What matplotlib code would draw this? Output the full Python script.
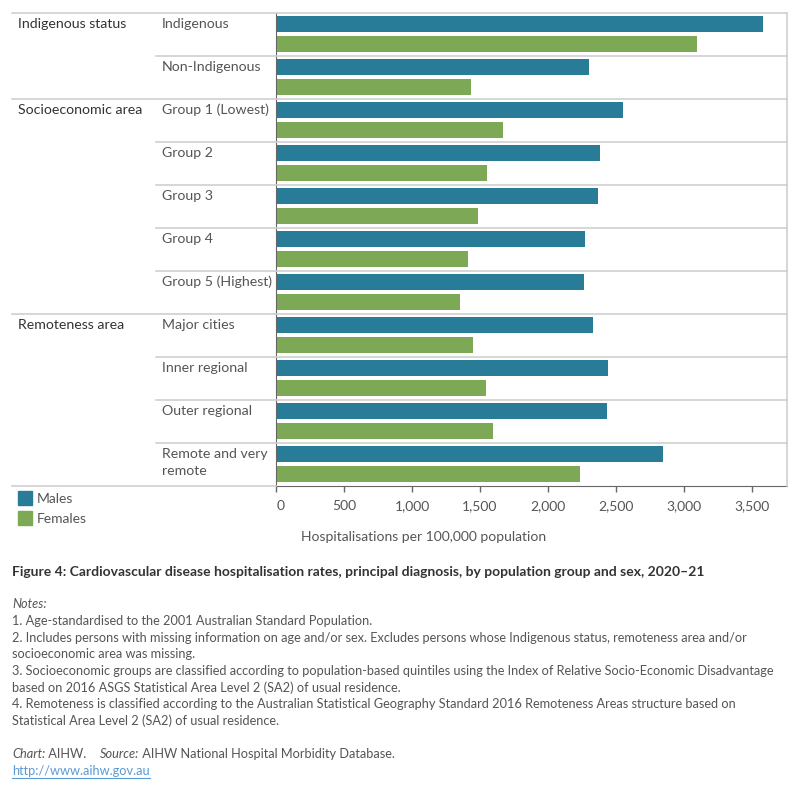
import matplotlib
matplotlib.use("Agg")
import matplotlib.pyplot as plt
from matplotlib import font_manager
from matplotlib.transforms import blended_transform_factory, ScaledTranslation
from matplotlib.patches import Rectangle
from matplotlib.lines import Line2D

# ---------------- data ----------------
groups = ["Indigenous status", "Socioeconomic area", "Remoteness area"]
group_sizes = [2, 5, 4]
categories = ["Indigenous", "Non-Indigenous",
              "Group 1 (Lowest)", "Group 2", "Group 3", "Group 4", "Group 5 (Highest)",
              "Major cities", "Inner regional", "Outer regional", "Remote and very\nremote"]
males = [3580, 2300, 2550, 2380, 2367, 2271, 2264, 2330, 2440, 2433, 2844]
females = [3095, 1433, 1670, 1550, 1485, 1411, 1352, 1448, 1543, 1595, 2234]
xticks = [0, 500, 1000, 1500, 2000, 2500, 3000, 3500]
xlabel = "Hospitalisations per 100,000 population"
series_names = ["Males", "Females"]
title = ("Figure 4: Cardiovascular disease hospitalisation rates, principal diagnosis, "
         "by population group and sex, 2020\u201321")
notes = [
    "1. Age-standardised to the 2001 Australian Standard Population.",
    "2. Includes persons with missing information on age and/or sex. Excludes persons whose Indigenous status, remoteness area and/or",
    "socioeconomic area was missing.",
    "3. Socioeconomic groups are classified according to population-based quintiles using the Index of Relative Socio-Economic Disadvantage",
    "based on 2016 ASGS Statistical Area Level 2 (SA2) of usual residence.",
    "4. Remoteness is classified according to the Australian Statistical Geography Standard 2016 Remoteness Areas structure based on",
    "Statistical Area Level 2 (SA2) of usual residence.",
]

MALE_C = "#297C97"
FEMALE_C = "#7DA855"
GRID_C = "#CFCFCF"
AXIS_C = "#666666"

names = {f.name for f in font_manager.fontManager.ttflist}
main_font = "Lato" if "Lato" in names else "DejaVu Sans"
plt.rcParams['font.family'] = [main_font, 'DejaVu Sans']

W = H = 800
fig = plt.figure(figsize=(8, 8), dpi=100)

def fx(px):
    return px / W

def fy(py):
    return 1 - py / H

x0, x1, ytop, ybot = 276, 787, 13, 486
ax = fig.add_axes([fx(x0), fy(ybot), fx(x1) - fx(x0), fy(ytop) - fy(ybot)])

n = len(categories)
rows = list(range(n))
bar_h = 0.372
ax.barh([r + 0.25 for r in rows], males, height=bar_h, color=MALE_C, zorder=3)
ax.barh([r + 0.73 for r in rows], females, height=bar_h, color=FEMALE_C, zorder=3)
ax.set_ylim(n, 0)
ax.set_xlim(0, 3757)
ax.set_yticks([])
ax.set_xticks(xticks)
ax.set_xticklabels([f"{v:,}" for v in xticks])
ax.tick_params(axis='x', length=4, width=1, color=AXIS_C, labelcolor="#555555",
               labelsize=10, pad=6)
for s in ["top", "right"]:
    ax.spines[s].set_visible(False)
ax.spines["left"].set_color(AXIS_C)
ax.spines["bottom"].set_color(AXIS_C)
ax.spines["left"].set_zorder(5)
labs = ax.get_xticklabels()
labs[0].set_transform(labs[0].get_transform() + ScaledTranslation(5 / 100, 0, fig.dpi_scale_trans))

bt = blended_transform_factory(fig.transFigure, ax.transData)
# row separators
starts = set()
acc = 0
for g in group_sizes:
    starts.add(acc)
    acc += g
for r in range(n + 1):
    xs = fx(12) if (r in starts or r == n) else fx(156)
    xe = fx(x1) if r < n else fx(x0)
    fig.add_artist(Line2D([xs, xe], [r, r], transform=bt, color=GRID_C, lw=1.2, zorder=1))
# right border
fig.add_artist(Line2D([fx(x1), fx(x1)], [fy(ytop), fy(ybot)], transform=fig.transFigure,
                      color=GRID_C, lw=1.2))

# group labels
acc = 0
for g, size in zip(groups, group_sizes):
    fig.text(fx(18), acc + 0.11, g, transform=bt, ha='left', va='top',
             fontsize=10.2, color="#333333")
    acc += size
for r, c in enumerate(categories):
    fig.text(fx(162), r + 0.11, c, transform=bt, ha='left', va='top',
             fontsize=10.2, color="#555555", linespacing=1.55)

# axis title
fig.text(fx(424), fy(537), xlabel, ha='center', va='center', fontsize=10, color="#555555")

# legend
for i, (nm, col) in enumerate(zip(series_names, [MALE_C, FEMALE_C])):
    yb = 491 + i * 20
    fig.add_artist(Rectangle((fx(18), fy(yb + 14)), fx(14), 14 / H, transform=fig.transFigure,
                             color=col))
    fig.text(fx(37), fy(yb + 8), nm, ha='left', va='center', fontsize=10, color="#555555")

# title
fig.text(fx(12), fy(572), title, ha='left', va='center', fontsize=10, fontweight='bold',
         color="#333333")

# notes
NOTE_C = "#555555"
NFS = 9.2
fig.text(fx(12), fy(604), "Notes:", ha='left', va='center', fontsize=NFS, style='italic',
         color=NOTE_C)
for i, line in enumerate(notes):
    fig.text(fx(12), fy(621 + i * 16.7), line, ha='left', va='center', fontsize=NFS,
             color=NOTE_C)

# chart/source line
renderer = fig.canvas.get_renderer()
pieces = [("Chart:", 'italic'), (" AIHW.    ", 'normal'), ("Source:", 'italic'),
          (" AIHW National Hospital Morbidity Database.", 'normal')]
xcur = fx(12)
for txt, st in pieces:
    t = fig.text(xcur, fy(754), txt, ha='left', va='center', fontsize=NFS, style=st,
                 color=NOTE_C)
    bb = t.get_window_extent(renderer)
    xcur = bb.x1 / W
link = fig.text(fx(12), fy(771), "http://www.aihw.gov.au", ha='left', va='center',
                fontsize=NFS, color="#5B9BD5")
bb = link.get_window_extent(renderer)
fig.add_artist(Line2D([bb.x0 / W, bb.x1 / W], [fy(778), fy(778)], transform=fig.transFigure,
                      color="#5B9BD5", lw=0.8))

fig.savefig("out.png", dpi=100)
